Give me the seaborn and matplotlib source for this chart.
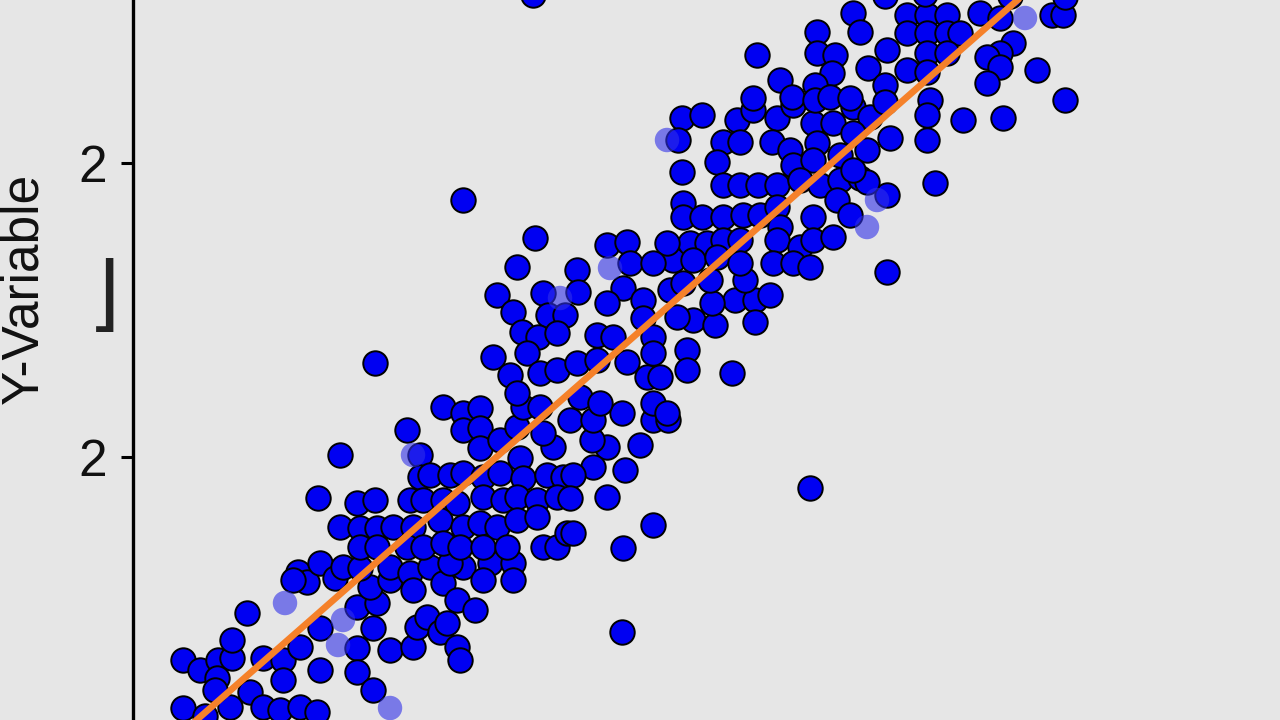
import matplotlib
matplotlib.use("Agg")
import pandas as pd
import seaborn as sns
import matplotlib.pyplot as plt

# points (x, y)
x_vals = [
    0.50, 0.67, 0.85, 0.99, 0.84, 0.99, 1.14, 1.30, 1.50, 1.50, 1.67, 1.87, 1.87, 2.24, 2.24, 2.24,
    2.44, 2.37, 2.57, 2.57, 2.77, 2.80, 2.97, 3.10, 3.24, 3.30, 2.40, 2.57, 2.80, 2.84, 2.94, 3.07,
    3.14, 3.24, 3.27, 2.40, 0.50, 0.97, 1.17, 1.30, 1.47, 1.67, 1.84, 1.65, 1.74, 1.60, 1.87, 2.02,
    2.10, 2.27, 0.72, 0.82, 3.17, 3.57, 3.80,
    2.07, 2.74, 2.87, 1.85, 2.24, 2.42, 2.77, 2.87, 2.97, 3.10, 3.30, 3.47, 3.30, 3.47, 3.47, 3.67,
    3.84, 3.90, 4.07, 4.20, 4.10, 3.17, 3.30, 3.50, 3.67, 3.87, 3.90, 4.14, 4.30, 2.90, 3.10, 3.24,
    3.50, 3.70, 3.84, 4.04, 4.24, 2.07, 2.27, 2.44, 2.60, 2.80, 3.07, 3.30, 3.47, 3.64, 3.84, 4.04,
    2.27, 2.44, 2.74, 2.90, 3.10, 3.27, 3.50, 3.74, 4.10, 4.24, 4.34,
    4.89, 5.20, 5.35, 5.07, 4.92, 4.74, 4.59, 4.60, 4.40, 4.74, 4.37, 5.20, 4.90, 4.40, 6.77, 4.89,
    4.37, 4.60, 3.80, 3.50, 3.42,
    4.02, 3.84, 3.64, 3.80, 4.10, 4.44, 4.45, 4.74, 4.94, 4.97, 4.90, 4.74, 4.15, 4.32, 3.89, 4.05,
    4.24, 4.64, 4.80, 5.10, 5.10, 5.20, 3.60, 3.94, 3.77, 3.84, 4.07, 4.24, 4.44, 4.64, 4.94, 5.14,
    5.27, 5.20, 5.54, 5.54, 4.47, 4.67, 5.20, 5.34, 5.37, 5.50, 5.40, 5.57, 5.34, 5.60, 5.44, 2.42,
    3.30,
    5.82, 6.02, 6.22, 6.22, 6.37, 5.99, 5.79, 5.77, 6.12,
    5.49, 5.69, 5.45, 5.49, 6.04, 6.20, 6.44, 6.60, 6.80, 7.00, 7.20, 7.37, 5.90, 6.07, 6.39, 6.84,
    7.20, 5.84, 6.57, 6.60, 6.80, 7.07, 7.34, 5.90, 6.07, 6.25, 6.44, 6.67, 6.87, 7.07, 7.27, 5.50,
    5.50, 5.69, 5.90, 6.10, 6.27, 6.44, 6.47, 6.80, 7.04, 7.17, 5.74, 5.90, 6.07, 6.44, 6.67, 6.80,
    7.00, 5.20, 5.60, 5.84, 6.07, 6.40, 6.60, 6.77,
    7.20, 7.27, 6.84, 6.24, 6.84, 7.02, 6.99, 7.54, 7.35, 7.74, 7.94, 8.14, 7.74, 7.94, 8.14, 8.27,
    8.47, 8.67, 9.19, 9.30, 8.80, 8.67, 8.54, 7.94, 8.14, 7.74, 7.94, 9.04, 8.67, 8.54, 9.32, 6.47,
    6.59, 6.82, 6.82, 6.97, 7.17, 6.20, 7.52, 7.52, 7.97, 7.94, 8.30, 8.70, 7.52, 7.92, 8.77, 9.32,
    4.00,
    7.57, 7.94, 8.02, 7.54, 7.34, 7.20, 7.54,
]
y_vals = [
    0.60, 0.50, 0.60, 0.62, 0.42, 0.80, 1.07, 0.62, 0.60, 0.40, 0.73, 0.92, 0.50, 0.72, 0.48, 1.13,
    1.17, 1.33, 1.40, 1.53, 1.47, 1.30, 1.53, 1.37, 1.20, 1.53, 0.92, 0.70, 0.73, 0.93, 1.03, 0.88,
    0.97, 0.73, 0.60, 0.30, 0.12, 0.13, 0.28, 0.13, 0.10, 0.13, 0.08, 1.48, 1.38, 1.40, 1.57, 1.42,
    1.53, 1.52, 0.04, 0.30, 1.57, 1.57, 1.57,
    2.65, 2.90, 2.65, 2.22, 2.17, 2.20, 2.20, 2.43, 2.45, 3.13, 3.07, 3.12, 2.90, 2.92, 2.72, 2.80,
    2.93, 3.13, 3.13, 2.73, 2.87, 2.45, 2.47, 2.43, 2.47, 2.62, 2.42, 2.45, 2.43, 2.20, 2.20, 2.17,
    2.23, 2.20, 2.23, 2.20, 2.23, 1.93, 1.92, 1.92, 1.93, 1.93, 2.00, 1.93, 1.97, 1.93, 2.00, 2.03,
    1.73, 1.73, 1.73, 1.73, 1.77, 1.73, 1.73, 1.73, 1.73, 1.73, 1.87,
    3.07, 3.00, 3.00, 2.75, 2.50, 2.73, 2.80, 2.53, 2.45, 2.23, 2.22, 1.95, 1.72, 1.87, 2.32, 0.88,
    3.00, 3.00, 1.40, 1.40, 1.10,
    4.82, 4.53, 4.25, 4.08, 4.27, 4.50, 4.28, 4.75, 4.78, 4.57, 4.32, 4.17, 4.05, 4.05, 3.88, 3.83,
    3.87, 3.85, 3.83, 4.20, 4.02, 3.83, 3.63, 3.67, 3.45, 3.27, 3.47, 3.50, 3.57, 3.60, 3.58, 3.43,
    3.43, 3.67, 3.70, 3.50, 3.23, 3.17, 3.17, 3.07, 4.30, 4.37, 4.60, 4.77, 4.77, 4.00, 4.03, 3.57,
    5.20,
    3.95, 4.20, 4.20, 3.98, 4.25, 3.47, 4.17, 4.40, 4.40,
    6.02, 6.05, 5.80, 5.48, 6.00, 6.10, 6.02, 6.15, 5.97, 5.97, 6.13, 6.03, 5.78, 5.78, 5.78, 5.77,
    5.87, 5.58, 5.70, 5.55, 5.60, 5.65, 5.70, 5.35, 5.35, 5.35, 5.35, 5.40, 5.35, 5.40, 5.42, 5.17,
    5.03, 5.03, 5.03, 5.05, 5.05, 5.13, 4.93, 5.03, 5.20, 5.05, 4.77, 4.80, 4.80, 4.80, 4.73, 4.80,
    4.83, 4.57, 4.60, 4.63, 4.57, 4.57, 4.57, 4.53,
    7.07, 6.88, 6.88, 6.65, 6.67, 6.65, 6.47, 6.70, 6.52, 7.05, 7.05, 7.05, 6.87, 6.87, 6.87, 6.87,
    7.07, 7.02, 7.05, 7.05, 6.77, 6.67, 6.63, 6.67, 6.67, 6.50, 6.48, 6.50, 6.53, 6.37, 6.20, 6.40,
    6.23, 6.35, 6.20, 6.23, 6.22, 6.22, 6.35, 6.18, 6.20, 6.05, 6.00, 6.02, 7.24, 7.26, 7.24, 7.23,
    7.25,
    5.82, 5.80, 5.37, 5.25, 5.38, 5.50, 4.48,
]

# a few points drawn paler in the picture
faint_x = [1.52, 2.57, 2.10, 2.05, 4.77, 4.27, 5.34, 7.34, 7.44, 8.92, 2.80]
faint_y = [1.17, 0.12, 1.00, 0.75, 4.52, 4.22, 5.80, 4.93, 5.20, 7.02, 2.65]

ytick_pos = [2.63, 5.57]
ytick_labels = ["2", "2"]

df = pd.DataFrame({"x": x_vals + faint_x, "y": y_vals + faint_y})
df_main = pd.DataFrame({"x": x_vals, "y": y_vals})
df_faint = pd.DataFrame({"x": faint_x, "y": faint_y})

sns.set_style("white")
plt.rcParams["font.family"] = ["Liberation Sans", "DejaVu Sans"]

bg = "#e6e6e6"
fig = plt.figure(figsize=(12.8, 7.2), dpi=100, facecolor=bg)
ax = fig.add_axes([133 / 1280, 0, 1 - 133 / 1280, 1])
ax.set_facecolor(bg)

sns.scatterplot(data=df_main, x="x", y="y", s=310, color="#0000f2",
                edgecolor="black", linewidth=1.4, ax=ax, zorder=2)
sns.scatterplot(data=df_faint, x="x", y="y", s=310, color="#3030e8", alpha=0.6,
                edgecolor="none", linewidth=0, ax=ax, zorder=2)
sns.regplot(data=df, x="x", y="y", scatter=False, ci=None, ax=ax,
            line_kws={"color": "#f5812a", "linewidth": 4.8, "zorder": 3})

ax.set_xlim(0, 11.47)
ax.set_ylim(0, 7.2)
ax.set_xticks([])
ax.set_yticks(ytick_pos)
ax.set_yticklabels(ytick_labels)
ax.tick_params(axis="y", left=True, labelsize=37, length=9, width=2.2, pad=10,
               color="black", labelcolor="#111111")
for side in ["top", "right", "bottom"]:
    ax.spines[side].set_visible(False)
ax.spines["left"].set_linewidth(2.4)
ax.spines["left"].set_color("black")

ax.set_xlabel("")
ax.set_ylabel("Y-Variable", fontsize=37, color="#111111")
ax.yaxis.set_label_coords(-0.074, 0.6)

# stray glyph between the two tick labels
fig.text(104 / 1280, 1 - 297 / 720, "⌋", fontsize=60, ha="center", va="center",
         family=["DejaVu Sans", "Liberation Sans"], color="#222222")

fig.savefig("out.png", dpi=100, facecolor=bg)
